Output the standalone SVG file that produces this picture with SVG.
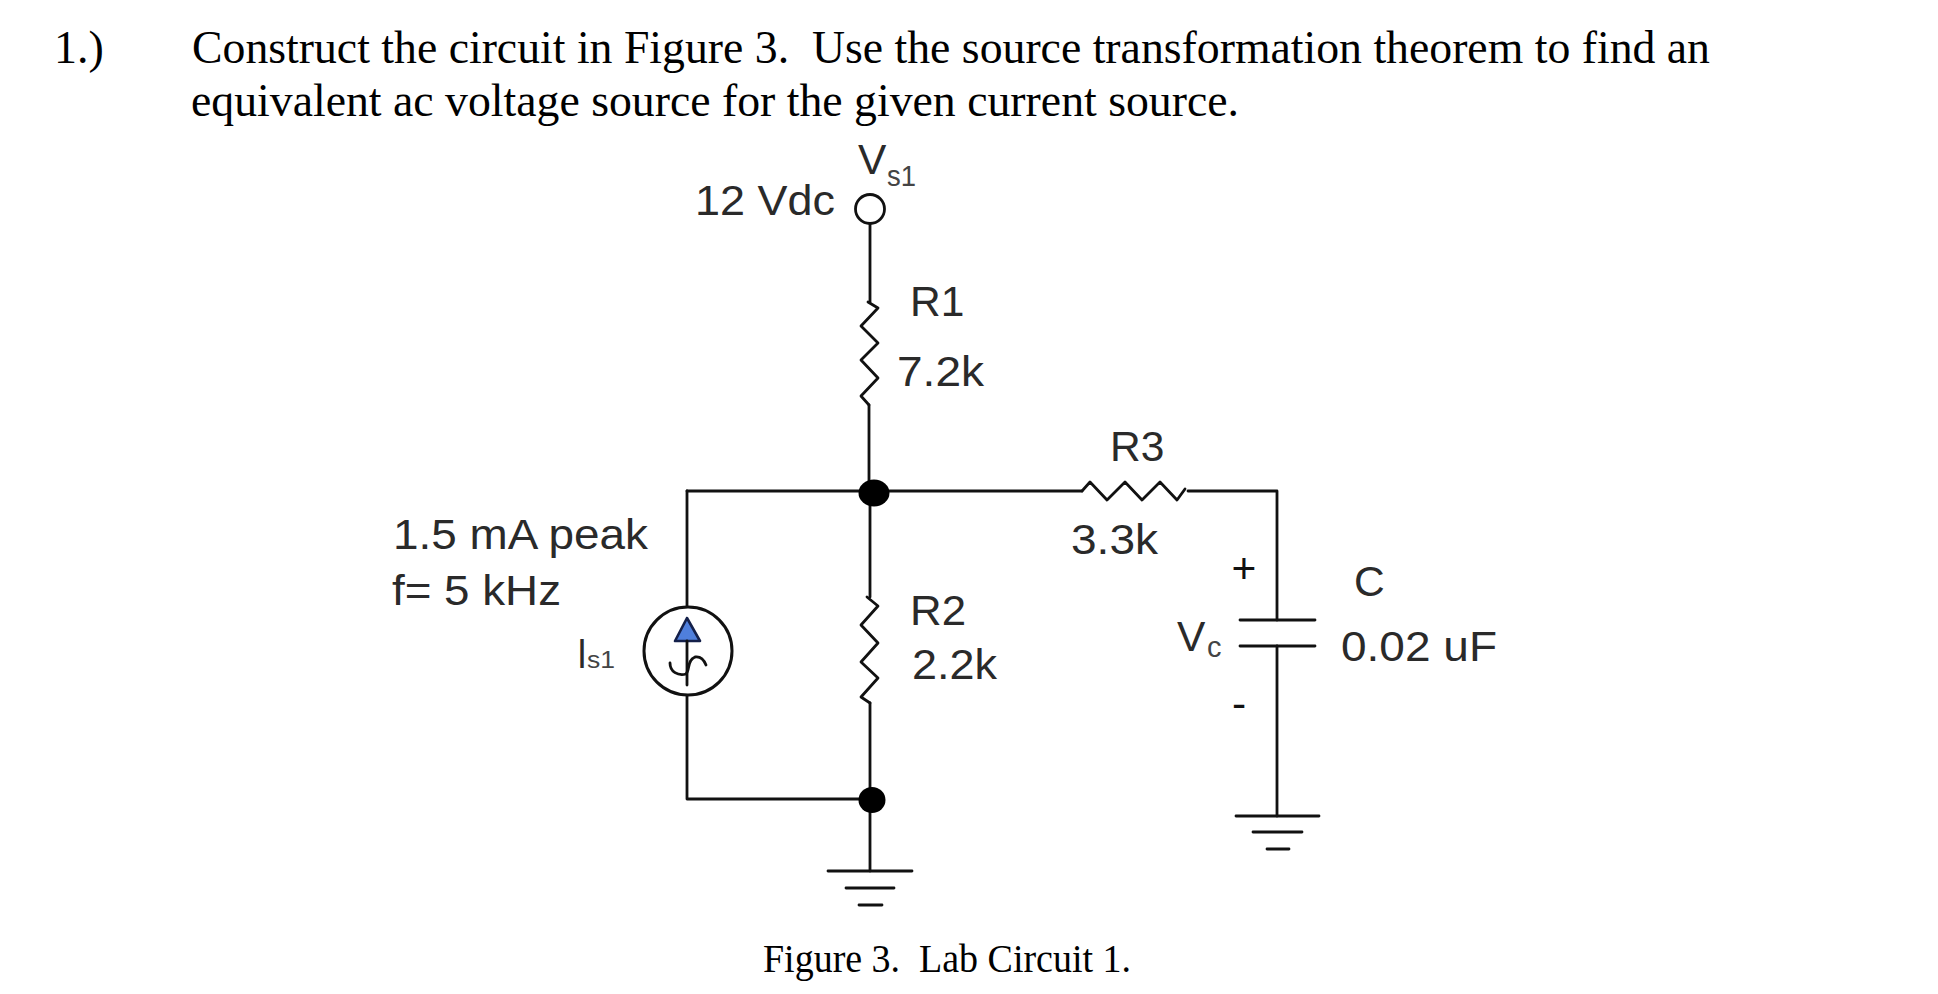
<svg xmlns="http://www.w3.org/2000/svg" width="1938" height="994" viewBox="0 0 1938 994">
<style>
.w{fill:none;stroke:#111;stroke-width:2.8;stroke-linejoin:round;stroke-linecap:round}
.t{font-family:"Liberation Serif","Times New Roman",serif;fill:#000;font-size:46px;white-space:pre}
.l{font-family:"Liberation Sans",Arial,sans-serif;fill:#2a2a2a;font-size:42.5px;white-space:pre}
.s{font-family:"Liberation Sans",Arial,sans-serif;fill:#444;font-size:29px}
</style>
<rect width="1938" height="994" fill="#fff"/>
<g id="prompt">
<text class="t" x="54" y="63">1.)</text>
<text class="t" x="192" y="63" textLength="1518" lengthAdjust="spacingAndGlyphs">Construct the circuit in Figure 3.  Use the source transformation theorem to find an</text>
<text class="t" x="191" y="116" textLength="1048" lengthAdjust="spacingAndGlyphs">equivalent ac voltage source for the given current source.</text>
</g>
<g id="connectors">
<path class="w" d="M870 224V302M869 405V491M870 491V597M870 703V871"/>
<path class="w" d="M687 491H1082M1188 491H1277V620M1277 646V816"/>
<path class="w" d="M687 491V607M687 695V799H872"/>
</g>
<g id="Vs1">
<circle cx="870" cy="209" r="14.500" fill="#fff" stroke="#111" stroke-width="2.8"/>
<text class="l" x="695" y="215" textLength="140" lengthAdjust="spacingAndGlyphs">12 Vdc</text>
<text class="l" x="858" y="174">V</text>
<text class="s" x="887" y="186" textLength="29" lengthAdjust="spacingAndGlyphs">s1</text>
</g>
<g id="R1">
<path class="w" d="M868 302L878 308L861 326L878 343L861 360L878 378L861 396L869 405"/>
<text class="l" x="910" y="316">R1</text>
<text class="l" x="897" y="386" textLength="87" lengthAdjust="spacingAndGlyphs">7.2k</text>
</g>
<g id="R2">
<path class="w" d="M867 597L878 606L861 625L878 643L861 662L878 678L861 697L870 703"/>
<text class="l" x="910" y="625" textLength="56" lengthAdjust="spacingAndGlyphs">R2</text>
<text class="l" x="912" y="679" textLength="85" lengthAdjust="spacingAndGlyphs">2.2k</text>
</g>
<g id="R3">
<path class="w" d="M1082 491L1090 482L1107 500L1125 482L1142 500L1160 482L1177 500L1185 489"/>
<text class="l" x="1110" y="461">R3</text>
<text class="l" x="1071" y="554" textLength="87" lengthAdjust="spacingAndGlyphs">3.3k</text>
</g>
<g id="node-top"><ellipse cx="874" cy="493" rx="15.500" ry="13.500" fill="#000"/></g>
<g id="node-bottom"><ellipse cx="872" cy="800" rx="13.500" ry="13" fill="#000"/></g>
<g id="Is1">
<circle cx="688" cy="651" r="44" fill="#fff" stroke="#111" stroke-width="3"/>
<path d="M687 618L675 641H700Z" fill="#4f7fdc" stroke="#14204a" stroke-width="2.600" stroke-linejoin="round"/>
<path class="w" d="M687 641V685"/>
<path class="w" d="M670 663C670 672 678 676 686 674C690 670 687 660 695 657C701 656 704 660 706 665"/>
<text class="l" x="577" y="668" textLength="10" lengthAdjust="spacingAndGlyphs">I</text>
<text class="s" x="587" y="668" style="font-size:24px" textLength="28" lengthAdjust="spacingAndGlyphs">s1</text>
<text class="l" x="393" y="549" textLength="255" lengthAdjust="spacingAndGlyphs">1.5 mA peak</text>
<text class="l" x="392" y="605" textLength="169" lengthAdjust="spacingAndGlyphs">f= 5 kHz</text>
</g>
<g id="C">
<path class="w" d="M1240 620H1315M1240 646H1315"/>
<text class="l" x="1354" y="596">C</text>
<text class="l" x="1341" y="661" textLength="156" lengthAdjust="spacingAndGlyphs">0.02 uF</text>
<text class="l" x="1177" y="651">V</text>
<text class="s" x="1207" y="657">c</text>
<text class="l" x="1244" y="583" text-anchor="middle" style="fill:#111">+</text>
<text class="l" x="1239" y="718" text-anchor="middle" style="fill:#111">-</text>
</g>
<g id="ground-1"><path class="w" d="M828 871H912M846 888H894M859 905H882"/></g>
<g id="ground-2"><path class="w" d="M1236 816H1319M1253 832H1302M1267 849H1289"/></g>
<text class="t" x="763" y="972" style="font-size:39px" textLength="368" lengthAdjust="spacingAndGlyphs">Figure 3.  Lab Circuit 1.</text>
</svg>
